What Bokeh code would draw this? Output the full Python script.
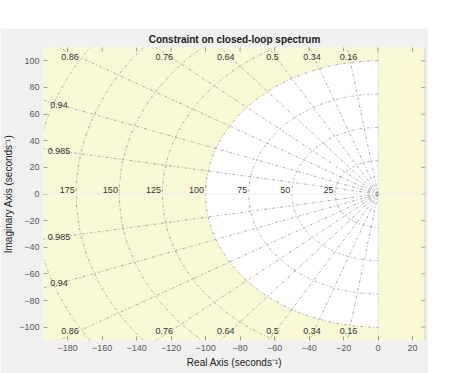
import numpy as np
from bokeh.plotting import figure
from bokeh.models import Range1d, FixedTicker, Span, Spacer
from bokeh.layouts import column, row
from bokeh.embed import file_html
from bokeh.resources import INLINE
from bokeh.core.properties import value

# ---- data ----
title = "Constraint on closed-loop spectrum"
x_label = "Real Axis (seconds\u207b\u00b9)"
y_label = "Imaginary Axis (seconds\u207b\u00b9)"
x_ticks = [-180, -160, -140, -120, -100, -80, -60, -40, -20, 0, 20]
y_ticks = [-100, -80, -60, -40, -20, 0, 20, 40, 60, 80, 100]
zeta_top = [0.16, 0.34, 0.5, 0.64, 0.76, 0.86]      # labelled at top/bottom edge
zeta_side = [0.94, 0.985]                           # labelled at left edge
wn_circles = [25, 50, 75, 100, 125, 150, 175, 200]
wn_labels = [25, 50, 75, 100, 125, 150, 175]
max_natural_freq = 100                               # constraint: |s| <= 100, Re(s) <= 0

FONT = "Liberation Sans"
YELLOW = "#f9f8d6"
GRID = "#8a8a8a"
DASH = "3 2 1 2"
X0, X1, Y0, Y1 = -194, 27.5, -110, 110

p = figure(width=428, height=345, x_range=Range1d(X0, X1), y_range=Range1d(Y0, Y1),
           output_backend="svg", toolbar_location=None, title=title,
           min_border_left=41, min_border_right=3, min_border_top=19, min_border_bottom=33,
           background_fill_color=YELLOW, border_fill_color="#f0f0f0", outline_line_color=None)
p.title.text_font = FONT
p.title.text_font_size = "10px"
p.title.text_font_style = "bold"
p.title.text_color = "#1a1a1a"
p.title.align = "center"
p.title.standoff = 6
p.grid.visible = False

# allowed region (white half disk)
th = np.linspace(np.pi / 2, 3 * np.pi / 2, 300)
p.patch(max_natural_freq * np.cos(th), max_natural_freq * np.sin(th),
        fill_color="white", line_color=None)

# zero line
p.add_layout(Span(location=0, dimension="width", line_color="#eeeee4", line_width=1.2))

# natural frequency circles
p.multi_line([list(w * np.cos(th)) for w in wn_circles], [list(w * np.sin(th)) for w in wn_circles],
             line_color=GRID, line_width=0.8, line_dash=DASH, line_alpha=0.85)

# damping rays
all_zeta = zeta_top + zeta_side
R = 400
xs, ys = [], []
for z in all_zeta:
    s = np.sqrt(1 - z * z)
    xs += [[0, -R * z], [0, -R * z]]
    ys += [[0, R * s], [0, -R * s]]
p.multi_line(xs, ys, line_color=GRID, line_width=0.8, line_dash=DASH, line_alpha=0.85)
# imaginary axis
p.add_layout(Span(location=0, dimension="height", line_color=GRID, line_width=0.8,
                  line_dash="1 2", line_alpha=0.7))

# damping labels
lx, ly, lt = [], [], []
for z in zeta_top:
    xx = -106 * z / np.sqrt(1 - z * z)
    for sgn in (1, -1):
        lx.append(xx); ly.append(sgn * 103); lt.append(f"{z:g}")
for z in zeta_side:
    yy = 185 * np.sqrt(1 - z * z) / z
    for sgn in (1, -1):
        lx.append(-185); ly.append(sgn * yy); lt.append(f"{z:g}")
p.text(lx, ly, text=lt, text_font=value(FONT), text_font_size="9px", text_color="#333333",
       text_align="center", text_baseline="middle")

# frequency labels
p.text([-w for w in wn_labels], [0] * len(wn_labels), text=[str(w) for w in wn_labels],
       text_font=value(FONT), text_font_size="9px", text_color="#333333",
       text_align="right", text_baseline="middle", x_offset=-1.5, y_offset=-4)

# right / top tick marks (frame-clipped dashes) and right box edge
p.scatter([X1] * len(y_ticks), y_ticks, marker="dash", size=8, line_color="#9a9a9a", line_width=1)
p.scatter(x_ticks, [Y1] * len(x_ticks), marker="dash", angle=np.pi / 2, size=8,
          line_color="#9a9a9a", line_width=1)
p.add_layout(Span(location=X1, dimension="height", line_color="#cfcfcf", line_width=2))

# axes
for ax in (p.xaxis[0], p.yaxis[0]):
    ax.major_tick_in = 4
    ax.major_tick_out = 0
    ax.minor_tick_line_color = None
    ax.major_tick_line_color = "#9a9a9a"
    ax.axis_line_color = None
    ax.major_label_text_font = FONT
    ax.major_label_text_font_size = "9px"
    ax.major_label_text_color = "#5a5a5a"
    ax.axis_label_text_font = FONT
    ax.axis_label_text_font_size = "10px"
    ax.axis_label_text_font_style = "normal"
    ax.axis_label_text_color = "#1a1a1a"

p.xaxis.ticker = FixedTicker(ticks=x_ticks)
p.yaxis.ticker = FixedTicker(ticks=y_ticks)
p.xaxis.axis_label = x_label
p.yaxis.axis_label = y_label
p.xaxis.major_label_standoff = 4
p.xaxis.axis_label_standoff = 3
p.yaxis.major_label_standoff = 4
p.yaxis.axis_label_standoff = 2

layout = column(Spacer(width=474, height=28), row(p, Spacer(width=46, height=345)))
open("out.html", "w").write(file_html(layout, INLINE))
